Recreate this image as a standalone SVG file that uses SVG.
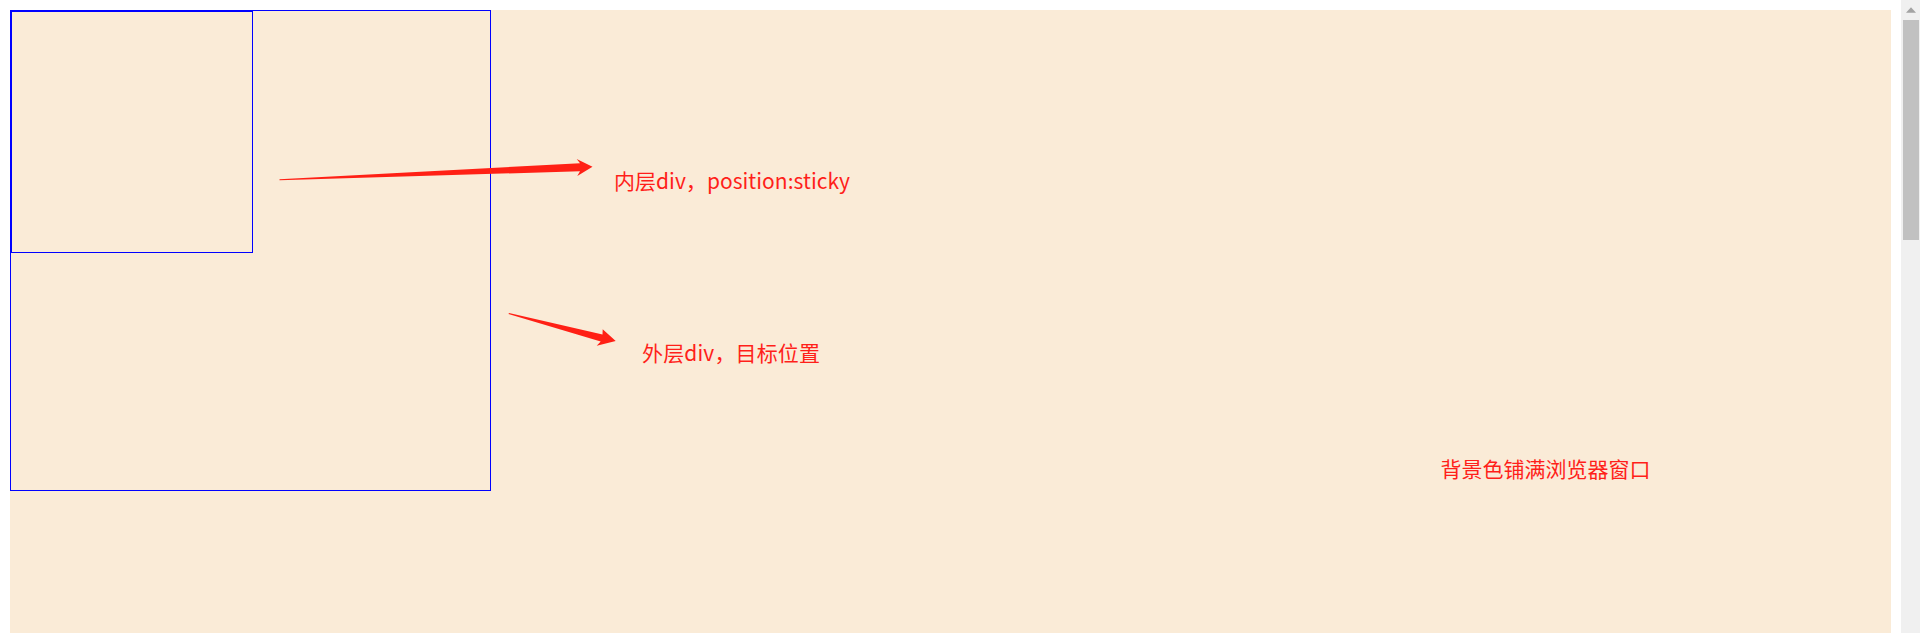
<svg xmlns="http://www.w3.org/2000/svg" width="1920" height="633" viewBox="0 0 1920 633">
<defs>
<style>
.lbl{font-family:"Microsoft YaHei","Noto Sans CJK SC","Noto Sans",sans-serif;font-size:21px;fill:#ff1f1a}
.box{fill:none;stroke:#0000ff;stroke-width:1}
.arrow{fill:#ff2015;stroke:none}
</style>
</defs>
<rect x="0" y="0" width="1920" height="633" fill="#ffffff"/>
<rect id="page" x="10" y="10" width="1881" height="623" fill="#faebd7"/>
<g id="scrollbar">
<rect x="1901" y="0" width="19" height="633" fill="#f0f0f0"/>
<rect x="1903" y="20" width="16" height="220" fill="#c1c1c1"/>
<polygon points="1906,12.7 1911,7.3 1916,12.7" fill="#a3a3a3"/>
</g>
<g id="outer-div"><rect class="box" x="10.5" y="10.5" width="480" height="480"/></g>
<g id="inner-div"><rect class="box" x="11.5" y="11.5" width="241" height="241"/></g>
<g id="connectors">
<polygon class="arrow" points="279.5,179.3 580,163.2 576.7,159 592.5,166.7 577.3,176 580,171.2 279.5,180.3"/>
<polygon class="arrow" points="509,313 602.5,334.6 602.7,329.3 615.7,341 596.7,345.7 600.7,341.4 508.5,314"/>
</g>
<g id="label-inner"><text class="lbl" x="614" y="188.5" textLength="236" lengthAdjust="spacing">内层div，position:sticky</text></g>
<g id="label-outer"><text class="lbl" x="642" y="360.5" textLength="178" lengthAdjust="spacing">外层div，目标位置</text></g>
<g id="label-bg"><text class="lbl" x="1440.5" y="476.5" textLength="210" lengthAdjust="spacing">背景色铺满浏览器窗口</text></g>
</svg>
